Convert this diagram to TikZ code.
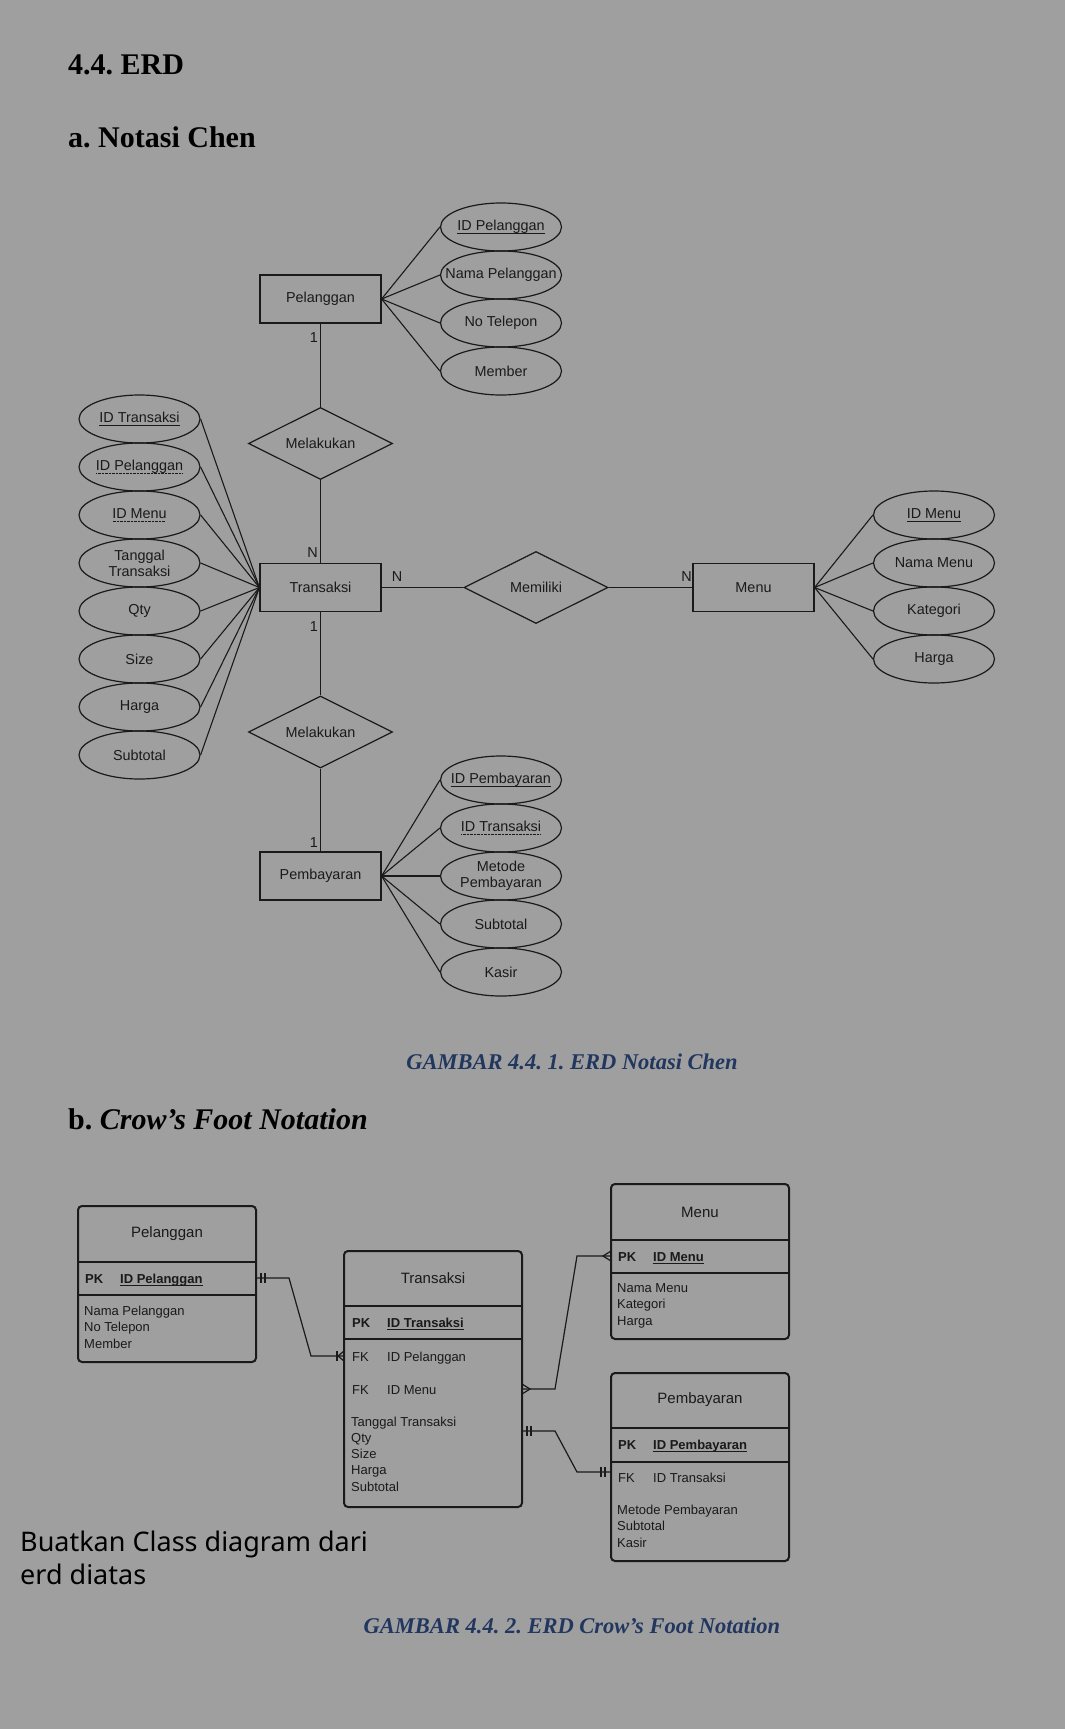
\documentclass[tikz,border=0pt]{standalone}
\usepackage{fontspec}
\usetikzlibrary{shapes.geometric}
\setmainfont{Liberation Sans}
\newfontfamily\arialf{Liberation Sans}
\newfontfamily\timesf{Liberation Serif}
\newfontfamily\notof{Noto Sans}
\frenchspacing
\definecolor{bgc}{RGB}{159,159,159}
\definecolor{ink}{RGB}{26,26,26}
\definecolor{capblue}{RGB}{34,55,95}
\newcommand\chenfont{\arialf\fontsize{14.4}{16}\selectfont}
\newcommand\hdrfont{\arialf\fontsize{15}{18}\selectfont}
\newcommand\fldfont{\arialf\fontsize{13}{16}\selectfont}
\newcommand\zw[1]{\makebox[0pt]{#1}}
\newcommand\solu[1]{\setbox0=\hbox{#1}\leavevmode\rlap{\raisebox{-2.6pt}{\rule{\wd0}{0.7pt}}}\box0}
\newcommand\dotu[1]{\setbox0=\hbox{#1}\leavevmode\rlap{\raisebox{-2.6pt}{\hbox to \wd0{\leaders\hbox to 1.4pt{\hss\rule{0.7pt}{0.6pt}\hss}\hfill}}}\box0}
\begin{document}
\begin{tikzpicture}[x=1pt,y=-1pt,
  entity/.style={draw=ink, line width=1.2pt, rectangle, minimum width=121pt, minimum height=48pt, inner sep=0pt, font=\chenfont, text=ink},
  attr/.style={draw=ink, line width=1.2pt, ellipse, minimum width=121pt, minimum height=48pt, inner sep=0pt, font=\chenfont, align=center, text=ink},
  rel/.style={draw=ink, line width=1.2pt, diamond, shape aspect=2, minimum width=144pt, minimum height=72pt, inner sep=0pt, font=\chenfont, text=ink},
  link/.style={draw=ink, line width=1.1pt},
  card/.style={font=\chenfont, text=ink, inner sep=0pt},
  tbl/.style={draw=ink, line width=2pt, rounded corners=4pt, rectangle, inner sep=0pt, minimum width=178pt},
  hdr/.style={font=\hdrfont, text=ink, inner sep=0pt},
  fld/.style={font=\fldfont, text=ink, anchor=base west, inner sep=0pt},
  cfl/.style={draw=ink, line width=1.2pt},
  head/.style={font=\timesf\bfseries\fontsize{30}{36}\selectfont, text=black, anchor=base west, inner sep=0pt},
  capt/.style={font=\timesf\bfseries\itshape\fontsize{22.5}{27}\selectfont, text=capblue, anchor=base, inner sep=0pt}
]
\fill[bgc] (0,0) rectangle (1065,1729);
\useasboundingbox (0,0) rectangle (1065,1729);

% headings
\node[head] (h1) at (68,74) {4.4. ERD};
\node[head] (h2) at (68,147) {a. Notasi Chen};
\node[head] (h3) at (68,1129) {b. \textit{Crow’s Foot Notation}};

% ---------- Chen ----------
\node[entity] (pel) at (320.5,299) {Pelanggan};
\node[attr] (pa1) at (501,227) {\zw{\solu{ID Pelanggan}}};
\node[attr] (pa2) at (501,275) {\zw{Nama Pelanggan}};
\node[attr] (pa3) at (501,323) {\zw{No Telepon}};
\node[attr] (pa4) at (501,371) {\zw{Member}};
\foreach \i in {1,...,4} \draw[link] (pel.east) -- (pa\i.west);

\node[rel] (mel1) at (320.5,443.5) {Melakukan};
\node[entity] (tra) at (320.5,587.5) {Transaksi};
\node[rel] (mel2) at (320.5,732) {Melakukan};
\node[entity] (pem) at (320.5,876) {Pembayaran};
\node[rel] (mem) at (536,587.5) {Memiliki};
\node[entity] (men) at (753.5,587.5) {Menu};

\draw[link] (pel.south) -- (mel1.north);
\draw[link] (mel1.south) -- (tra.north);
\draw[link] (tra.south) -- (mel2.north);
\draw[link] (mel2.south) -- (pem.north);
\draw[link] (tra.east) -- (mem.west);
\draw[link] (mem.east) -- (men.west);

\node[card, anchor=east] (c1) at (318,338) {1};
\node[card, anchor=east] (c2) at (318,553) {N};
\node[card, anchor=east] (c3) at (318,627) {1};
\node[card, anchor=east] (c4) at (318,843) {1};
\node[card] (c5) at (397,577) {N};
\node[card, anchor=east] (c6) at (692,577) {N};

% Transaksi attributes
\node[attr] (ta1) at (139.5,419) {\zw{\solu{ID Transaksi}}};
\node[attr] (ta2) at (139.5,467) {\zw{\dotu{ID Pelanggan}}};
\node[attr] (ta3) at (139.5,515) {\zw{\dotu{ID Menu}}};
\node[attr] (ta4) at (139.5,563) {\zw{Tanggal}\\\zw{Transaksi}};
\node[attr] (ta5) at (139.5,611) {\zw{Qty}};
\node[attr] (ta6) at (139.5,659) {\zw{Size}};
\node[attr] (ta7) at (139.5,707) {\zw{Harga}};
\node[attr] (ta8) at (139.5,755) {\zw{Subtotal}};
\foreach \i in {1,...,8} \draw[link] (tra.west) -- (ta\i.east);

% Menu attributes
\node[attr] (ma1) at (934,515) {\zw{\solu{ID Menu}}};
\node[attr] (ma2) at (934,563) {\zw{Nama Menu}};
\node[attr] (ma3) at (934,611) {\zw{Kategori}};
\node[attr] (ma4) at (934,659) {\zw{Harga}};
\foreach \i in {1,...,4} \draw[link] (men.east) -- (ma\i.west);

% Pembayaran attributes
\node[attr] (ba1) at (501,780) {\zw{\solu{ID Pembayaran}}};
\node[attr] (ba2) at (501,828) {\zw{\dotu{ID Transaksi}}};
\node[attr] (ba3) at (501,876) {\zw{Metode}\\\zw{Pembayaran}};
\node[attr] (ba4) at (501,924) {\zw{Subtotal}};
\node[attr] (ba5) at (501,972) {\zw{Kasir}};
\foreach \i in {1,...,5} \draw[link] (pem.east) -- (ba\i.west);

\node[capt] (cap1) at (572,1069) {GAMBAR 4.4. 1. ERD Notasi Chen};

% ---------- Crow's foot ----------
% Pelanggan table
\node[tbl, minimum height=156pt] (tPel) at (167,1284) {};
\draw[draw=ink, line width=2pt] (79,1262) -- (255,1262);
\draw[draw=ink, line width=1.3pt] (79,1295) -- (255,1295);
\node[hdr] (hPel) at (167,1234) {Pelanggan};
\node[fld] (pkP) at (85,1283) {\bfseries PK};
\node[fld] (idP) at (120,1283) {\bfseries\solu{ID Pelanggan}};
\node[fld] (fP1) at (84,1315) {Nama Pelanggan};
\node[fld] (fP2) at (84,1331) {No Telepon};
\node[fld] (fP3) at (84,1348) {Member};

% Transaksi table
\node[tbl, minimum height=256pt] (tTra) at (433,1379) {};
\draw[draw=ink, line width=2pt] (345,1306) -- (521,1306);
\draw[draw=ink, line width=1.3pt] (345,1339) -- (521,1339);
\node[hdr] (hTra) at (433,1278) {Transaksi};
\node[fld] (pkT) at (352,1327) {\bfseries PK};
\node[fld] (idT) at (387,1327) {\bfseries\solu{ID Transaksi}};
\node[fld] (fk1) at (352,1361) {FK};
\node[fld] (fk1n) at (387,1361) {ID Pelanggan};
\node[fld] (fk2) at (352,1394) {FK};
\node[fld] (fk2n) at (387,1394) {ID Menu};
\node[fld] (fT1) at (351,1426) {Tanggal Transaksi};
\node[fld] (fT2) at (351,1442) {Qty};
\node[fld] (fT3) at (351,1458) {Size};
\node[fld] (fT4) at (351,1474) {Harga};
\node[fld] (fT5) at (351,1491) {Subtotal};

% Menu table
\node[tbl, minimum height=155pt] (tMen) at (700,1261.5) {};
\draw[draw=ink, line width=2pt] (612,1240) -- (788,1240);
\draw[draw=ink, line width=1.3pt] (612,1273) -- (788,1273);
\node[hdr] (hMen) at (700,1212) {Menu};
\node[fld] (pkM) at (618,1261) {\bfseries PK};
\node[fld] (idM) at (653,1261) {\bfseries\solu{ID Menu}};
\node[fld] (fM1) at (617,1292) {Nama Menu};
\node[fld] (fM2) at (617,1308) {Kategori};
\node[fld] (fM3) at (617,1325) {Harga};

% Pembayaran table
\node[tbl, minimum height=188pt] (tPem) at (700,1467) {};
\draw[draw=ink, line width=2pt] (612,1428) -- (788,1428);
\draw[draw=ink, line width=1.3pt] (612,1462) -- (788,1462);
\node[hdr] (hPem) at (700,1400) {Pembayaran};
\node[fld] (pkB) at (618,1449) {\bfseries PK};
\node[fld] (idB) at (653,1449) {\bfseries\solu{ID Pembayaran}};
\node[fld] (fkB) at (618,1482) {FK};
\node[fld] (fkBn) at (653,1482) {ID Transaksi};
\node[fld] (fB1) at (617,1514) {Metode Pembayaran};
\node[fld] (fB2) at (617,1530) {Subtotal};
\node[fld] (fB3) at (617,1547) {Kasir};

% connectors
\coordinate (a1) at (256,1278);
\coordinate (b1) at (344,1356);
\draw[cfl] (a1) -- (289,1278) -- (311,1356) -- (b1);
\draw[cfl] (261,1273) -- (261,1283) (265,1273) -- (265,1283);
\draw[cfl] (337,1351) -- (337,1361);
\draw[cfl] (344,1351) -- (338,1356) -- (344,1361);

\coordinate (a2) at (522,1389);
\coordinate (b2) at (611,1256);
\draw[cfl] (a2) -- (555,1389) -- (577,1256) -- (b2);
\draw[cfl] (522,1384) -- (530,1389) -- (522,1394);
\draw[cfl] (611,1251) -- (603,1256) -- (611,1261);

\coordinate (a3) at (522,1431);
\coordinate (b3) at (611,1472);
\draw[cfl] (a3) -- (555,1431) -- (577,1472) -- (b3);
\draw[cfl] (527,1426) -- (527,1436) (531,1426) -- (531,1436);
\draw[cfl] (601,1467) -- (601,1477) (605,1467) -- (605,1477);

% bottom text
\node[font=\notof\fontsize{27}{33}\selectfont, text=black, anchor=base west, inner sep=0pt] (q1) at (20,1551) {Buatkan Class diagram dari};
\node[font=\notof\fontsize{27}{33}\selectfont, text=black, anchor=base west, inner sep=0pt] (q2) at (20,1584) {erd diatas};

\node[capt] (cap2) at (572,1633) {GAMBAR 4.4. 2. ERD Crow’s Foot Notation};
\end{tikzpicture}
\end{document}
